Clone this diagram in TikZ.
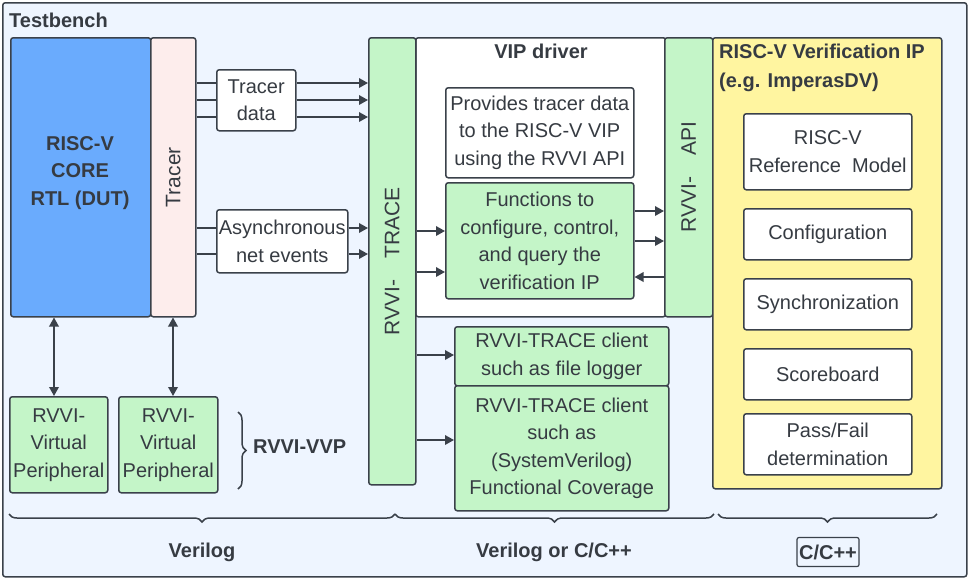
\documentclass[tikz,border=0pt]{standalone}
\usepackage{fontspec}
\setmainfont{Liberation Sans}
\usetikzlibrary{arrows.meta,decorations.pathreplacing}
\definecolor{bgc}{HTML}{EEF5FF}
\definecolor{corec}{HTML}{6AABFD}
\definecolor{tracerc}{HTML}{FDEDEC}
\definecolor{greenc}{HTML}{C4F5C8}
\definecolor{yellowc}{HTML}{FFF5A0}
\definecolor{lc}{HTML}{3A414A}
\definecolor{tc}{HTML}{363B42}
\begin{document}
\begin{tikzpicture}[x=1pt,y=-1pt,
  txt/.style={font=\fontsize{20}{27.5}\selectfont, text=tc, align=center},
  bold/.style={font=\bfseries\fontsize{20}{28}\selectfont, text=tc},
  rot/.style={font=\fontsize{21}{25}\selectfont, text=tc, rotate=90, inner sep=0pt},
  box/.style={draw=lc, line width=1.5pt, rounded corners=2.5pt, inner sep=1pt,
    anchor=north west, txt},
  conn/.style={draw=lc, line width=1.8pt},
  arr/.style={conn, -{Triangle[length=9pt,width=9.5pt]}},
  darr/.style={conn, {Triangle[length=9pt,width=9.5pt]}-{Triangle[length=9pt,width=9.5pt]}},
  brc/.style={draw=lc, line width=1.5pt, decorate, decoration={brace, amplitude=8pt}}
]
\useasboundingbox (0,0) rectangle (968,579);
% outer testbench
\node[box, fill=bgc, minimum width=964, minimum height=574] (tb) at (2,2) {};
\node[bold, anchor=west, inner sep=0pt] (tbl) at (9,20) {Testbench};

% core and tracer
\node[box, fill=corec, minimum width=140, minimum height=279] (core) at (10,37) {};
\node[bold, align=center, font=\bfseries\fontsize{20}{27.5}\selectfont] (corel) at (80,173) {RISC-V\\CORE\\RTL (DUT)};
\node[box, fill=tracerc, minimum width=45, minimum height=279] (tracer) at (150,37) {};
\node[rot] (tracerl) at (tracer.center) {Tracer};

% tracer data & async
\node[box, fill=white, minimum width=79, minimum height=61] (td) at (216,69) {Tracer\\data};
\node[box, fill=white, minimum width=131, minimum height=63, inner sep=0pt] (async) at (216,209) {Asynchronous\\net events};

% VIP driver
\node[box, fill=white, minimum width=250, minimum height=279] (vip) at (415,37) {};
\node[bold, anchor=center] (vipl) at (541,51) {VIP driver};

% columns
\node[box, fill=greenc, minimum width=47, minimum height=447] (trace) at (368,37) {};
\node[rot] (tracel) at (trace.center) {RVVI-\hspace{1em}TRACE};
\node[box, fill=greenc, minimum width=48, minimum height=279] (api) at (664,37) {};
\node[rot] (apil) at (api.center) {RVVI-\hspace{1em}API};

% inner VIP boxes
\node[box, fill=white, minimum width=188, minimum height=90] (prov) at (445,87) {Provides tracer data\\to the RISC-V VIP\\using the RVVI API};
\node[box, fill=greenc, minimum width=188, minimum height=116] (fn) at (445,182) {Functions to\\configure, control,\\and query the\\verification IP};

% clients
\node[box, fill=greenc, minimum width=214, minimum height=59] (cl1) at (454,326) {RVVI-TRACE client\\such as file logger};
\node[box, fill=greenc, minimum width=214, minimum height=125] (cl2) at (454,385) {RVVI-TRACE client\\such as\\(SystemVerilog)\\Functional Coverage};

% verification IP
\node[box, fill=yellowc, minimum width=229, minimum height=451] (vip2) at (712,37) {};
\node[bold, anchor=north west, align=left, inner sep=0pt, font=\bfseries\fontsize{20}{29}\selectfont] (vip2l) at (719,44) {RISC-V Verification IP\\(e.g. ImperasDV)};
\node[box, fill=white, minimum width=168, minimum height=76] (ref) at (743,113) {RISC-V\\Reference\ \ Model};
\node[box, fill=white, minimum width=168, minimum height=51] (cfg) at (743,208) {Configuration};
\node[box, fill=white, minimum width=168, minimum height=51] (sync) at (743,278) {Synchronization};
\node[box, fill=white, minimum width=168, minimum height=51] (score) at (743,348) {Scoreboard};
\node[box, fill=white, minimum width=168, minimum height=61] (pass) at (743,413) {Pass/Fail\\determination};

% virtual peripherals
\node[box, fill=greenc, minimum width=98, minimum height=96, inner sep=0pt] (vp1) at (9,396) {RVVI-\\Virtual\\Peripheral};
\node[box, fill=greenc, minimum width=99, minimum height=96, inner sep=0pt] (vp2) at (118,396) {RVVI-\\Virtual\\Peripheral};
\coordinate (vvpa) at (238,412);
\coordinate (vvpb) at (238,489);
\draw[brc] (vvpa) -- (vvpb);
\node[bold, anchor=west, inner sep=0pt] (vvpl) at (253,447) {RVVI-VVP};

% connectors: tracer data
\foreach \y in {83,100,117}{
  \draw[conn] (tracer.east |- 0,\y) -- (td.west |- 0,\y);
  \draw[arr] (td.east |- 0,\y) -- (trace.west |- 0,\y);
}
\foreach \y in {228,254}{
  \draw[conn] (tracer.east |- 0,\y) -- (async.west |- 0,\y);
  \draw[arr] (async.east |- 0,\y) -- (trace.west |- 0,\y);
}
\foreach \y in {231,272}{
  \draw[arr] (trace.east |- 0,\y) -- (fn.west |- 0,\y);
}
\foreach \y in {211,241}{
  \draw[arr] (fn.east |- 0,\y) -- (api.west |- 0,\y);
}
\draw[arr] (api.west |- 0,277) -- (fn.east |- 0,277);
\draw[arr] (trace.east |- 0,355) -- (cl1.west |- 0,355);
\draw[arr] (trace.east |- 0,440) -- (cl2.west |- 0,440);

% double arrows
\draw[darr] (core.south -| 54,0) -- (vp1.north -| 54,0);
\draw[darr] (tracer.south -| 173,0) -- (vp2.north -| 173,0);

% bottom braces
\coordinate (b1a) at (9,514);
\coordinate (b1b) at (395,514);
\coordinate (b2a) at (395,514);
\coordinate (b2b) at (714,514);
\coordinate (b3a) at (718,514);
\coordinate (b3b) at (937,514);
\draw[brc, decoration={brace, mirror, amplitude=8pt}] (b1a) -- (b1b);
\draw[brc, decoration={brace, mirror, amplitude=8pt}] (b2a) -- (b2b);
\draw[brc, decoration={brace, mirror, amplitude=8pt}] (b3a) -- (b3b);
\node[bold] (l1) at (202,552) {Verilog};
\node[bold] (l2) at (554,552) {Verilog or C/C++};
\node[bold, draw=lc, line width=1.2pt, rounded corners=2pt, inner sep=2pt, minimum width=62, minimum height=29] (l3) at (828,552) {C/C++};
\end{tikzpicture}
\end{document}
